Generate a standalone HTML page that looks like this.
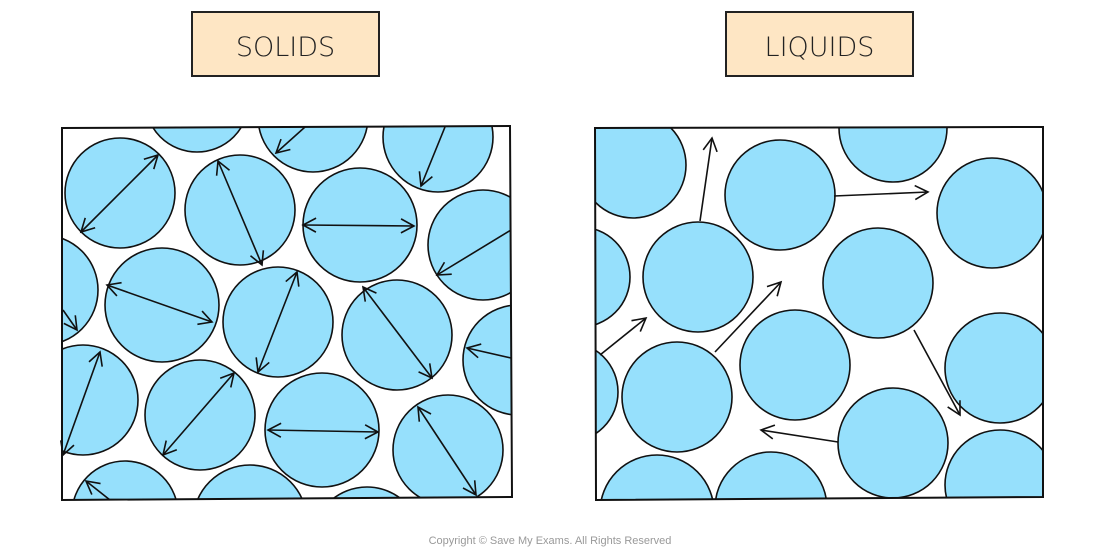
<!DOCTYPE html>
<html><head><meta charset="utf-8"><style>
html,body{margin:0;padding:0;background:#fff;width:1100px;height:555px;overflow:hidden}
svg{display:block}
</style></head><body>
<svg width="1100" height="555" viewBox="0 0 1100 555" xmlns="http://www.w3.org/2000/svg">
<defs>
<marker id="a" viewBox="0 0 16 16" refX="14" refY="8" markerWidth="16" markerHeight="16" markerUnits="userSpaceOnUse" orient="auto-start-reverse">
<path d="M1,1 L14,8 L1,15" fill="none" stroke="#111" stroke-width="1.6"/>
</marker>
<clipPath id="cs"><polygon points="62,128 510,126 512,497 62,500"/></clipPath>
<clipPath id="cl"><polygon points="595,128 1043,127 1043,497 596,500"/></clipPath>
</defs>
<rect x="192" y="12" width="187" height="64" fill="#fee6c4" stroke="#222" stroke-width="2"/>
<text x="285.5" y="56" text-anchor="middle" font-family="'DejaVu Sans','Liberation Sans',sans-serif" font-size="27" fill="#222" font-weight="300">SOLIDS</text>
<rect x="726" y="12" width="187" height="64" fill="#fee6c4" stroke="#222" stroke-width="2"/>
<text x="819.5" y="56" text-anchor="middle" font-family="'DejaVu Sans','Liberation Sans',sans-serif" font-size="27" fill="#222" font-weight="300">LIQUIDS</text>

<g clip-path="url(#cs)" fill="#96e0fc" stroke="#111" stroke-width="1.6">
<circle cx="120" cy="193" r="55"/>
<circle cx="197" cy="100" r="52"/>
<circle cx="313" cy="117" r="55"/>
<circle cx="438" cy="137" r="55"/>
<circle cx="240" cy="210" r="55"/>
<circle cx="360" cy="225" r="57"/>
<circle cx="483" cy="245" r="55"/>
<circle cx="43" cy="290" r="55"/>
<circle cx="162" cy="305" r="57"/>
<circle cx="278" cy="322" r="55"/>
<circle cx="397" cy="335" r="55"/>
<circle cx="518" cy="360" r="55"/>
<circle cx="83" cy="400" r="55"/>
<circle cx="200" cy="415" r="55"/>
<circle cx="322" cy="430" r="57"/>
<circle cx="448" cy="450" r="55"/>
<circle cx="125" cy="514" r="53"/>
<circle cx="250" cy="522" r="57"/>
<circle cx="367" cy="542" r="55"/>
</g>
<g stroke="#111" stroke-width="1.6" fill="none" marker-start="url(#a)" marker-end="url(#a)">
<line x1="81" y1="232" x2="158" y2="155"/>
<line x1="218" y1="161" x2="262" y2="265"/>
<line x1="303" y1="225" x2="414" y2="226"/>
<line x1="107" y1="285" x2="212" y2="322"/>
<line x1="297" y1="272" x2="258" y2="372"/>
<line x1="363" y1="287" x2="432" y2="378"/>
<line x1="100" y1="352" x2="63" y2="455"/>
<line x1="234" y1="373" x2="163" y2="455"/>
<line x1="268" y1="430" x2="378" y2="432"/>
<line x1="418" y1="407" x2="476" y2="495"/>
</g>
<g stroke="#111" stroke-width="1.6" fill="none" marker-end="url(#a)">
<line x1="445" y1="127" x2="421" y2="186"/>
<line x1="305" y1="127" x2="276" y2="153"/>
<line x1="511" y1="230" x2="437" y2="275"/>
<line x1="63" y1="310" x2="77" y2="330"/>
<line x1="511" y1="358" x2="467" y2="348"/>
<line x1="110" y1="500" x2="86" y2="481"/>
</g>
<polygon points="62,128 510,126 512,497 62,500" fill="none" stroke="#111" stroke-width="2"/>

<g clip-path="url(#cl)" fill="#96e0fc" stroke="#111" stroke-width="1.6">
<circle cx="633" cy="165" r="53"/>
<circle cx="780" cy="195" r="55"/>
<circle cx="893" cy="128" r="54"/>
<circle cx="992" cy="213" r="55"/>
<circle cx="580" cy="277" r="50"/>
<circle cx="698" cy="277" r="55"/>
<circle cx="878" cy="283" r="55"/>
<circle cx="795" cy="365" r="55"/>
<circle cx="1000" cy="368" r="55"/>
<circle cx="568" cy="392" r="50"/>
<circle cx="677" cy="397" r="55"/>
<circle cx="893" cy="443" r="55"/>
<circle cx="1000" cy="485" r="55"/>
<circle cx="657" cy="512" r="57"/>
<circle cx="771" cy="508" r="56"/>
</g>
<g stroke="#111" stroke-width="1.6" fill="none" marker-end="url(#a)">
<line x1="700" y1="221" x2="712" y2="138"/>
<line x1="834" y1="196" x2="928" y2="192"/>
<line x1="600" y1="355" x2="646" y2="318"/>
<line x1="715" y1="352" x2="781" y2="282"/>
<line x1="914" y1="330" x2="960" y2="415"/>
<line x1="838" y1="442" x2="761" y2="430"/>
</g>
<polygon points="595,128 1043,127 1043,497 596,500" fill="none" stroke="#111" stroke-width="2"/>

<text x="550" y="544" text-anchor="middle" font-family="'Liberation Sans',sans-serif" font-size="11" fill="#999">Copyright © Save My Exams. All Rights Reserved</text>
</svg>
</body></html>
